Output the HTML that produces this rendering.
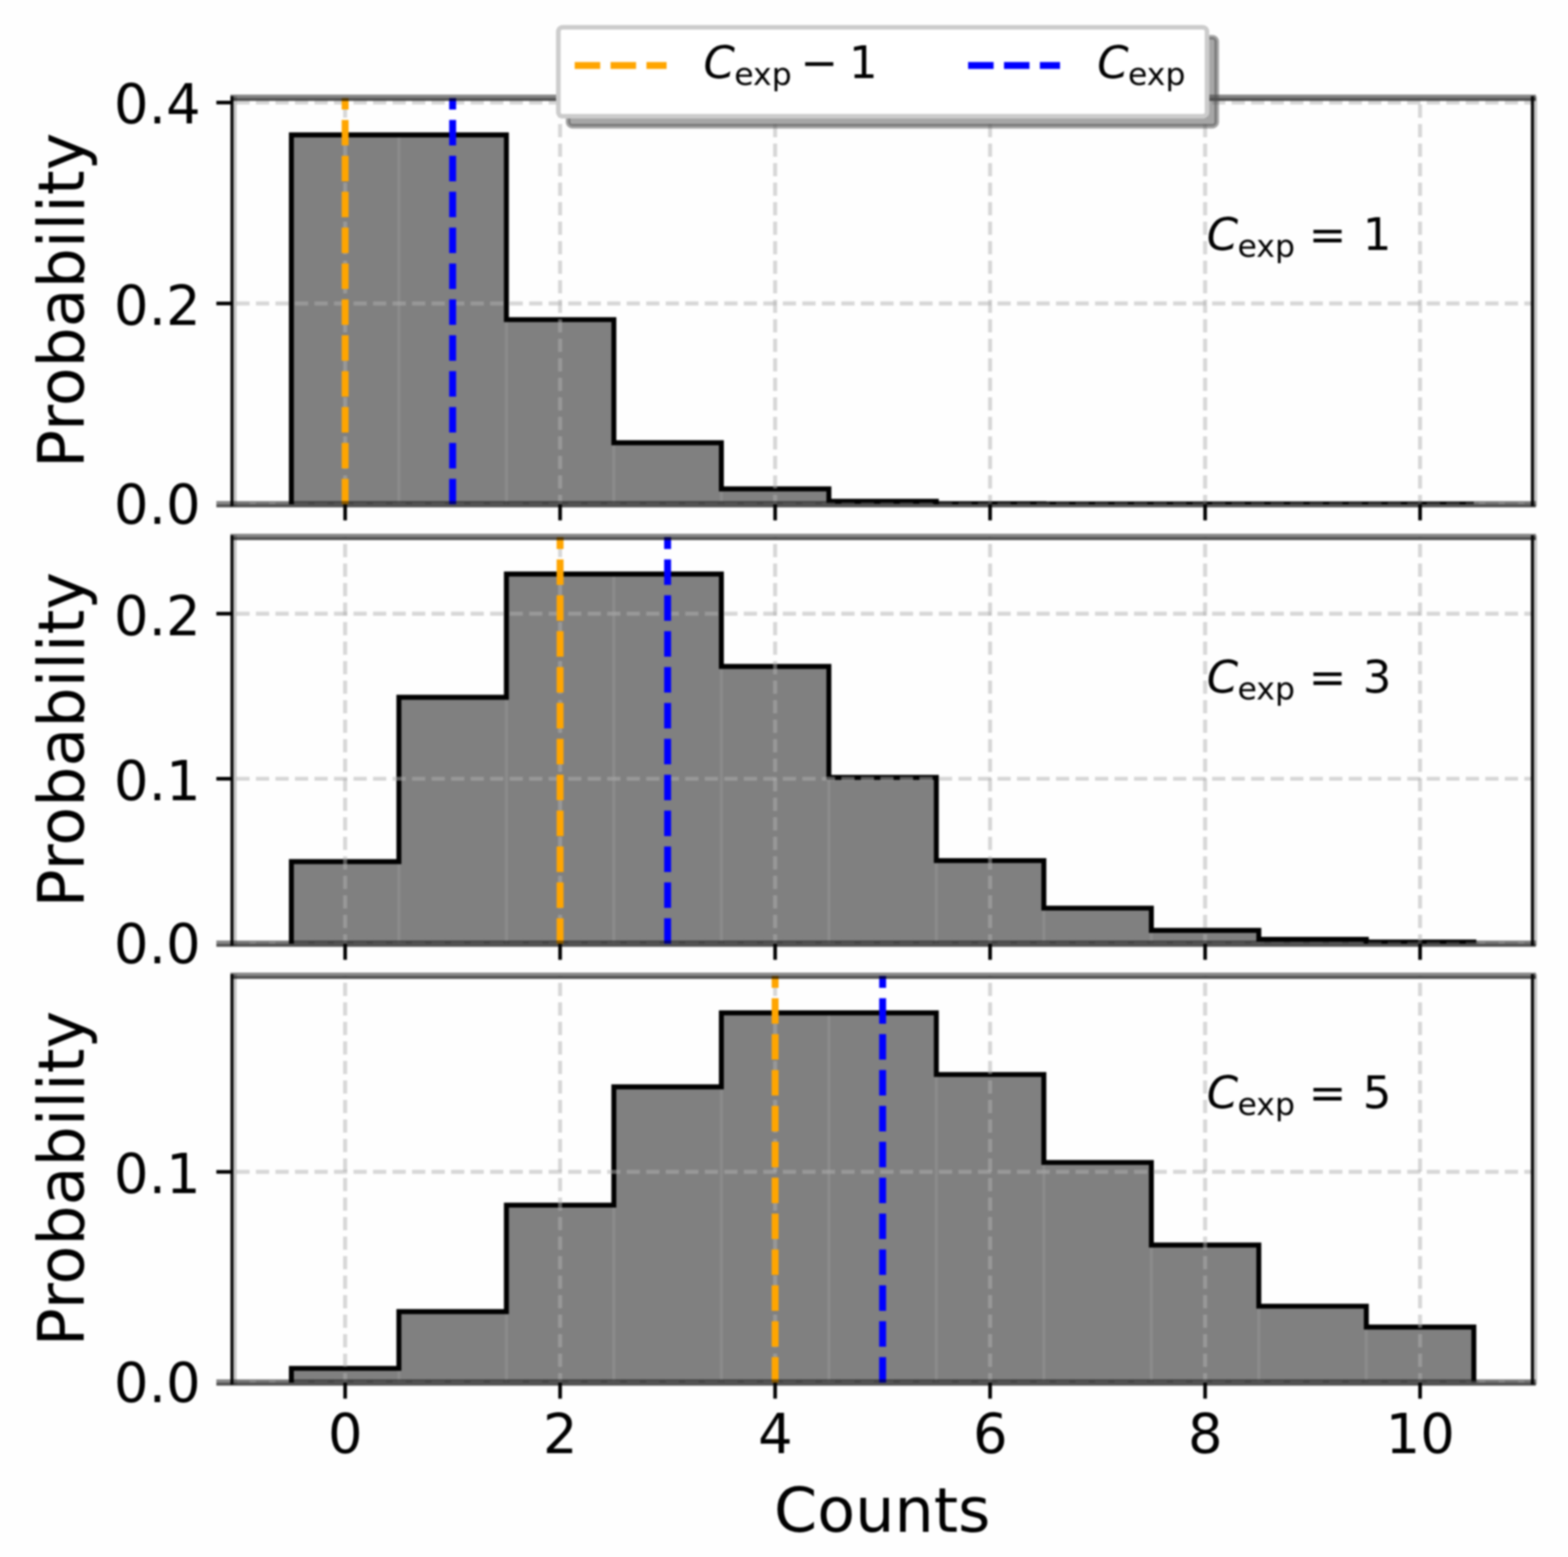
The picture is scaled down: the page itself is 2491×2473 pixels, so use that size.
<!DOCTYPE html>
<html lang="en"><head><meta charset="utf-8"><title>Poisson count distributions</title>
<style>html,body{margin:0;padding:0;background:#fff}body{width:2491px;height:2473px;overflow:hidden}svg{display:block}text{font-family:"DejaVu Sans","Liberation Sans",sans-serif;fill:#000}.tk{font-size:86.5px}.lb{font-size:100.8px}.an{font-size:71.5px}.sub{font-size:50.05px}.it{font-style:italic}</style></head><body>
<svg width="2491" height="2473" viewBox="0 0 2491 2473">
<defs><filter id="soft" filterUnits="userSpaceOnUse" x="-20" y="-20" width="2531" height="2513" color-interpolation-filters="sRGB"><feGaussianBlur stdDeviation="1.8"/></filter></defs>
<rect x="-20" y="-20" width="2531" height="2513" fill="#fefefe"/>
<g filter="url(#soft)">
<rect x="-20" y="-20" width="2531" height="2513" fill="#fefefe"/>
<g>
<clipPath id="cp0"><rect x="369.2" y="155.5" width="2066" height="645.5"/></clipPath>
<g clip-path="url(#cp0)">
<path d="M462.9 801.0 L462.9 214.2 L633.7 214.2 L633.7 214.2 L804.5 214.2 L804.5 507.6 L975.2 507.6 L975.2 703.2 L1146.0 703.2 L1146.0 776.5 L1316.8 776.5 L1316.8 796.1 L1487.5 796.1 L1487.5 800.2 L1658.3 800.2 L1658.3 800.9 L1829.1 800.9 L1829.1 801.0 L1999.8 801.0 L1999.8 801.0 L2170.6 801.0 L2170.6 801.0 L2341.4 801.0 L2341.4 801.0 Z" fill="#808080" stroke="none"/>
<line x1="633.7" x2="633.7" y1="801.0" y2="214.2" stroke="#fff" stroke-opacity="0.09" stroke-width="5"/>
<line x1="804.5" x2="804.5" y1="801.0" y2="507.6" stroke="#fff" stroke-opacity="0.09" stroke-width="5"/>
<line x1="975.2" x2="975.2" y1="801.0" y2="703.2" stroke="#fff" stroke-opacity="0.09" stroke-width="5"/>
<line x1="1146.0" x2="1146.0" y1="801.0" y2="776.5" stroke="#fff" stroke-opacity="0.09" stroke-width="5"/>
<line x1="1316.8" x2="1316.8" y1="801.0" y2="796.1" stroke="#fff" stroke-opacity="0.09" stroke-width="5"/>
<line x1="1487.5" x2="1487.5" y1="801.0" y2="800.2" stroke="#fff" stroke-opacity="0.09" stroke-width="5"/>
<line x1="1658.3" x2="1658.3" y1="801.0" y2="800.9" stroke="#fff" stroke-opacity="0.09" stroke-width="5"/>
<line x1="1829.1" x2="1829.1" y1="801.0" y2="801.0" stroke="#fff" stroke-opacity="0.09" stroke-width="5"/>
<line x1="1999.8" x2="1999.8" y1="801.0" y2="801.0" stroke="#fff" stroke-opacity="0.09" stroke-width="5"/>
<line x1="2170.6" x2="2170.6" y1="801.0" y2="801.0" stroke="#fff" stroke-opacity="0.09" stroke-width="5"/>
<path d="M462.9 801.0 L462.9 214.2 L633.7 214.2 L633.7 214.2 L804.5 214.2 L804.5 507.6 L975.2 507.6 L975.2 703.2 L1146.0 703.2 L1146.0 776.5 L1316.8 776.5 L1316.8 796.1 L1487.5 796.1 L1487.5 800.2 L1658.3 800.2 L1658.3 800.9 L1829.1 800.9 L1829.1 801.0 L1999.8 801.0 L1999.8 801.0 L2170.6 801.0 L2170.6 801.0 L2341.4 801.0 L2341.4 801.0" fill="none" stroke="#000" stroke-width="7.9" stroke-linejoin="miter" stroke-linecap="butt"/>
<line x1="548.3" x2="548.3" y1="801.0" y2="155.5" stroke-dashoffset="5.9" stroke="#b0b0b0" stroke-opacity="0.5" stroke-width="6.4" stroke-dasharray="21 10" fill="none"/>
<line x1="889.8" x2="889.8" y1="801.0" y2="155.5" stroke-dashoffset="5.9" stroke="#b0b0b0" stroke-opacity="0.5" stroke-width="6.4" stroke-dasharray="21 10" fill="none"/>
<line x1="1231.4" x2="1231.4" y1="801.0" y2="155.5" stroke-dashoffset="5.9" stroke="#b0b0b0" stroke-opacity="0.5" stroke-width="6.4" stroke-dasharray="21 10" fill="none"/>
<line x1="1572.9" x2="1572.9" y1="801.0" y2="155.5" stroke-dashoffset="5.9" stroke="#b0b0b0" stroke-opacity="0.5" stroke-width="6.4" stroke-dasharray="21 10" fill="none"/>
<line x1="1914.5" x2="1914.5" y1="801.0" y2="155.5" stroke-dashoffset="5.9" stroke="#b0b0b0" stroke-opacity="0.5" stroke-width="6.4" stroke-dasharray="21 10" fill="none"/>
<line x1="2256.0" x2="2256.0" y1="801.0" y2="155.5" stroke-dashoffset="5.9" stroke="#b0b0b0" stroke-opacity="0.5" stroke-width="6.4" stroke-dasharray="21 10" fill="none"/>
<line x1="369.2" x2="2435.2" y1="801.0" y2="801.0" stroke-dashoffset="24.6" stroke="#b0b0b0" stroke-opacity="0.5" stroke-width="6.4" stroke-dasharray="21 10" fill="none"/>
<line x1="369.2" x2="2435.2" y1="482.0" y2="482.0" stroke-dashoffset="24.6" stroke="#b0b0b0" stroke-opacity="0.5" stroke-width="6.4" stroke-dasharray="21 10" fill="none"/>
<line x1="369.2" x2="2435.2" y1="162.9" y2="162.9" stroke-dashoffset="24.6" stroke="#b0b0b0" stroke-opacity="0.5" stroke-width="6.4" stroke-dasharray="21 10" fill="none"/>
<line x1="548.3" x2="548.3" y1="801.0" y2="155.5" stroke="#ffa500" stroke-width="11" stroke-dasharray="40.5 16.5"/>
<line x1="719.1" x2="719.1" y1="801.0" y2="155.5" stroke="#0000ff" stroke-width="11" stroke-dasharray="40.5 16.5"/>
</g>
<rect x="366.0" y="150.3" width="2074.0" height="5" fill="#000" fill-opacity="0.47"/>
<rect x="366.0" y="155.3" width="2074.0" height="5" fill="#000" fill-opacity="0.68"/>
<rect x="366.0" y="795.8" width="2074.0" height="5" fill="#000" fill-opacity="0.47"/>
<rect x="366.0" y="800.8" width="2074.0" height="5" fill="#000" fill-opacity="0.68"/>
<rect x="366.0" y="152.6" width="5" height="651.3" fill="#000" fill-opacity="0.94"/>
<rect x="371.0" y="152.6" width="5" height="651.3" fill="#000" fill-opacity="0.22"/>
<rect x="2432.0" y="152.6" width="5" height="651.3" fill="#000" fill-opacity="0.94"/>
<rect x="2437.0" y="152.6" width="5" height="651.3" fill="#000" fill-opacity="0.22"/>
<line x1="548.3" x2="548.3" y1="801.0" y2="826.5" stroke="#000" stroke-width="5.8"/>
<line x1="889.8" x2="889.8" y1="801.0" y2="826.5" stroke="#000" stroke-width="5.8"/>
<line x1="1231.4" x2="1231.4" y1="801.0" y2="826.5" stroke="#000" stroke-width="5.8"/>
<line x1="1572.9" x2="1572.9" y1="801.0" y2="826.5" stroke="#000" stroke-width="5.8"/>
<line x1="1914.5" x2="1914.5" y1="801.0" y2="826.5" stroke="#000" stroke-width="5.8"/>
<line x1="2256.0" x2="2256.0" y1="801.0" y2="826.5" stroke="#000" stroke-width="5.8"/>
<rect x="343.7" y="795.8" width="22.5" height="5" fill="#000" fill-opacity="0.47"/>
<rect x="343.7" y="800.8" width="22.5" height="5" fill="#000" fill-opacity="0.68"/>
<text class="tk" x="318.7" y="832.2" text-anchor="end">0.0</text>
<line x1="343.7" x2="369.2" y1="482.0" y2="482.0" stroke="#000" stroke-width="5.8"/>
<text class="tk" x="318.7" y="515.9" text-anchor="end">0.2</text>
<line x1="343.7" x2="369.2" y1="162.9" y2="162.9" stroke="#000" stroke-width="5.8"/>
<text class="tk" x="318.7" y="195.9" text-anchor="end">0.4</text>
<text class="lb" transform="translate(133 477.2) rotate(-90)" text-anchor="middle">Probability</text>
<text class="an" x="1917" y="396.8"><tspan class="it">C</tspan><tspan class="sub" dy="11" dx="-1">exp</tspan><tspan dy="-11" dx="-1"> = </tspan><tspan dx="3.5">1</tspan></text>
</g>
<g>
<clipPath id="cp1"><rect x="369.2" y="853" width="2066" height="646"/></clipPath>
<g clip-path="url(#cp1)">
<path d="M462.9 1499.0 L462.9 1368.5 L633.7 1368.5 L633.7 1107.5 L804.5 1107.5 L804.5 911.7 L975.2 911.7 L975.2 911.7 L1146.0 911.7 L1146.0 1058.5 L1316.8 1058.5 L1316.8 1234.7 L1487.5 1234.7 L1487.5 1366.9 L1658.3 1366.9 L1658.3 1442.4 L1829.1 1442.4 L1829.1 1477.8 L1999.8 1477.8 L1999.8 1491.9 L2170.6 1491.9 L2170.6 1496.3 L2341.4 1496.3 L2341.4 1499.0 Z" fill="#808080" stroke="none"/>
<line x1="633.7" x2="633.7" y1="1499.0" y2="1368.5" stroke="#fff" stroke-opacity="0.09" stroke-width="5"/>
<line x1="804.5" x2="804.5" y1="1499.0" y2="1107.5" stroke="#fff" stroke-opacity="0.09" stroke-width="5"/>
<line x1="975.2" x2="975.2" y1="1499.0" y2="911.7" stroke="#fff" stroke-opacity="0.09" stroke-width="5"/>
<line x1="1146.0" x2="1146.0" y1="1499.0" y2="1058.5" stroke="#fff" stroke-opacity="0.09" stroke-width="5"/>
<line x1="1316.8" x2="1316.8" y1="1499.0" y2="1234.7" stroke="#fff" stroke-opacity="0.09" stroke-width="5"/>
<line x1="1487.5" x2="1487.5" y1="1499.0" y2="1366.9" stroke="#fff" stroke-opacity="0.09" stroke-width="5"/>
<line x1="1658.3" x2="1658.3" y1="1499.0" y2="1442.4" stroke="#fff" stroke-opacity="0.09" stroke-width="5"/>
<line x1="1829.1" x2="1829.1" y1="1499.0" y2="1477.8" stroke="#fff" stroke-opacity="0.09" stroke-width="5"/>
<line x1="1999.8" x2="1999.8" y1="1499.0" y2="1491.9" stroke="#fff" stroke-opacity="0.09" stroke-width="5"/>
<line x1="2170.6" x2="2170.6" y1="1499.0" y2="1496.3" stroke="#fff" stroke-opacity="0.09" stroke-width="5"/>
<path d="M462.9 1499.0 L462.9 1368.5 L633.7 1368.5 L633.7 1107.5 L804.5 1107.5 L804.5 911.7 L975.2 911.7 L975.2 911.7 L1146.0 911.7 L1146.0 1058.5 L1316.8 1058.5 L1316.8 1234.7 L1487.5 1234.7 L1487.5 1366.9 L1658.3 1366.9 L1658.3 1442.4 L1829.1 1442.4 L1829.1 1477.8 L1999.8 1477.8 L1999.8 1491.9 L2170.6 1491.9 L2170.6 1496.3 L2341.4 1496.3 L2341.4 1499.0" fill="none" stroke="#000" stroke-width="7.9" stroke-linejoin="miter" stroke-linecap="butt"/>
<line x1="548.3" x2="548.3" y1="1499.0" y2="853.0" stroke-dashoffset="5.9" stroke="#b0b0b0" stroke-opacity="0.5" stroke-width="6.4" stroke-dasharray="21 10" fill="none"/>
<line x1="889.8" x2="889.8" y1="1499.0" y2="853.0" stroke-dashoffset="5.9" stroke="#b0b0b0" stroke-opacity="0.5" stroke-width="6.4" stroke-dasharray="21 10" fill="none"/>
<line x1="1231.4" x2="1231.4" y1="1499.0" y2="853.0" stroke-dashoffset="5.9" stroke="#b0b0b0" stroke-opacity="0.5" stroke-width="6.4" stroke-dasharray="21 10" fill="none"/>
<line x1="1572.9" x2="1572.9" y1="1499.0" y2="853.0" stroke-dashoffset="5.9" stroke="#b0b0b0" stroke-opacity="0.5" stroke-width="6.4" stroke-dasharray="21 10" fill="none"/>
<line x1="1914.5" x2="1914.5" y1="1499.0" y2="853.0" stroke-dashoffset="5.9" stroke="#b0b0b0" stroke-opacity="0.5" stroke-width="6.4" stroke-dasharray="21 10" fill="none"/>
<line x1="2256.0" x2="2256.0" y1="1499.0" y2="853.0" stroke-dashoffset="5.9" stroke="#b0b0b0" stroke-opacity="0.5" stroke-width="6.4" stroke-dasharray="21 10" fill="none"/>
<line x1="369.2" x2="2435.2" y1="1499.0" y2="1499.0" stroke-dashoffset="24.6" stroke="#b0b0b0" stroke-opacity="0.5" stroke-width="6.4" stroke-dasharray="21 10" fill="none"/>
<line x1="369.2" x2="2435.2" y1="1236.9" y2="1236.9" stroke-dashoffset="24.6" stroke="#b0b0b0" stroke-opacity="0.5" stroke-width="6.4" stroke-dasharray="21 10" fill="none"/>
<line x1="369.2" x2="2435.2" y1="974.7" y2="974.7" stroke-dashoffset="24.6" stroke="#b0b0b0" stroke-opacity="0.5" stroke-width="6.4" stroke-dasharray="21 10" fill="none"/>
<line x1="889.8" x2="889.8" y1="1499.0" y2="853.0" stroke="#ffa500" stroke-width="11" stroke-dasharray="40.5 16.5"/>
<line x1="1060.6" x2="1060.6" y1="1499.0" y2="853.0" stroke="#0000ff" stroke-width="11" stroke-dasharray="40.5 16.5"/>
</g>
<rect x="366.0" y="847.8" width="2074.0" height="5" fill="#000" fill-opacity="0.47"/>
<rect x="366.0" y="852.8" width="2074.0" height="5" fill="#000" fill-opacity="0.68"/>
<rect x="366.0" y="1493.8" width="2074.0" height="5" fill="#000" fill-opacity="0.47"/>
<rect x="366.0" y="1498.8" width="2074.0" height="5" fill="#000" fill-opacity="0.68"/>
<rect x="366.0" y="850.1" width="5" height="651.8" fill="#000" fill-opacity="0.94"/>
<rect x="371.0" y="850.1" width="5" height="651.8" fill="#000" fill-opacity="0.22"/>
<rect x="2432.0" y="850.1" width="5" height="651.8" fill="#000" fill-opacity="0.94"/>
<rect x="2437.0" y="850.1" width="5" height="651.8" fill="#000" fill-opacity="0.22"/>
<line x1="548.3" x2="548.3" y1="1499.0" y2="1524.5" stroke="#000" stroke-width="5.8"/>
<line x1="889.8" x2="889.8" y1="1499.0" y2="1524.5" stroke="#000" stroke-width="5.8"/>
<line x1="1231.4" x2="1231.4" y1="1499.0" y2="1524.5" stroke="#000" stroke-width="5.8"/>
<line x1="1572.9" x2="1572.9" y1="1499.0" y2="1524.5" stroke="#000" stroke-width="5.8"/>
<line x1="1914.5" x2="1914.5" y1="1499.0" y2="1524.5" stroke="#000" stroke-width="5.8"/>
<line x1="2256.0" x2="2256.0" y1="1499.0" y2="1524.5" stroke="#000" stroke-width="5.8"/>
<rect x="343.7" y="1493.8" width="22.5" height="5" fill="#000" fill-opacity="0.47"/>
<rect x="343.7" y="1498.8" width="22.5" height="5" fill="#000" fill-opacity="0.68"/>
<text class="tk" x="318.7" y="1530.2" text-anchor="end">0.0</text>
<line x1="343.7" x2="369.2" y1="1236.9" y2="1236.9" stroke="#000" stroke-width="5.8"/>
<text class="tk" x="318.7" y="1270.8" text-anchor="end">0.1</text>
<line x1="343.7" x2="369.2" y1="974.7" y2="974.7" stroke="#000" stroke-width="5.8"/>
<text class="tk" x="318.7" y="1008.6" text-anchor="end">0.2</text>
<text class="lb" transform="translate(133 1175.0) rotate(-90)" text-anchor="middle">Probability</text>
<text class="an" x="1917" y="1099.5"><tspan class="it">C</tspan><tspan class="sub" dy="11" dx="-1">exp</tspan><tspan dy="-11" dx="-1"> = </tspan><tspan dx="3.5">3</tspan></text>
</g>
<g>
<clipPath id="cp2"><rect x="369.2" y="1550" width="2066" height="646"/></clipPath>
<g clip-path="url(#cp2)">
<path d="M462.9 2196.0 L462.9 2173.4 L633.7 2173.4 L633.7 2083.2 L804.5 2083.2 L804.5 1914.1 L975.2 1914.1 L975.2 1726.2 L1146.0 1726.2 L1146.0 1608.7 L1316.8 1608.7 L1316.8 1608.7 L1487.5 1608.7 L1487.5 1706.6 L1658.3 1706.6 L1658.3 1846.4 L1829.1 1846.4 L1829.1 1977.5 L1999.8 1977.5 L1999.8 2074.6 L2170.6 2074.6 L2170.6 2107.7 L2341.4 2107.7 L2341.4 2196.0 Z" fill="#808080" stroke="none"/>
<line x1="633.7" x2="633.7" y1="2196.0" y2="2173.4" stroke="#fff" stroke-opacity="0.09" stroke-width="5"/>
<line x1="804.5" x2="804.5" y1="2196.0" y2="2083.2" stroke="#fff" stroke-opacity="0.09" stroke-width="5"/>
<line x1="975.2" x2="975.2" y1="2196.0" y2="1914.1" stroke="#fff" stroke-opacity="0.09" stroke-width="5"/>
<line x1="1146.0" x2="1146.0" y1="2196.0" y2="1726.2" stroke="#fff" stroke-opacity="0.09" stroke-width="5"/>
<line x1="1316.8" x2="1316.8" y1="2196.0" y2="1608.7" stroke="#fff" stroke-opacity="0.09" stroke-width="5"/>
<line x1="1487.5" x2="1487.5" y1="2196.0" y2="1706.6" stroke="#fff" stroke-opacity="0.09" stroke-width="5"/>
<line x1="1658.3" x2="1658.3" y1="2196.0" y2="1846.4" stroke="#fff" stroke-opacity="0.09" stroke-width="5"/>
<line x1="1829.1" x2="1829.1" y1="2196.0" y2="1977.5" stroke="#fff" stroke-opacity="0.09" stroke-width="5"/>
<line x1="1999.8" x2="1999.8" y1="2196.0" y2="2074.6" stroke="#fff" stroke-opacity="0.09" stroke-width="5"/>
<line x1="2170.6" x2="2170.6" y1="2196.0" y2="2107.7" stroke="#fff" stroke-opacity="0.09" stroke-width="5"/>
<path d="M462.9 2196.0 L462.9 2173.4 L633.7 2173.4 L633.7 2083.2 L804.5 2083.2 L804.5 1914.1 L975.2 1914.1 L975.2 1726.2 L1146.0 1726.2 L1146.0 1608.7 L1316.8 1608.7 L1316.8 1608.7 L1487.5 1608.7 L1487.5 1706.6 L1658.3 1706.6 L1658.3 1846.4 L1829.1 1846.4 L1829.1 1977.5 L1999.8 1977.5 L1999.8 2074.6 L2170.6 2074.6 L2170.6 2107.7 L2341.4 2107.7 L2341.4 2196.0" fill="none" stroke="#000" stroke-width="7.9" stroke-linejoin="miter" stroke-linecap="butt"/>
<line x1="548.3" x2="548.3" y1="2196.0" y2="1550.0" stroke-dashoffset="5.9" stroke="#b0b0b0" stroke-opacity="0.5" stroke-width="6.4" stroke-dasharray="21 10" fill="none"/>
<line x1="889.8" x2="889.8" y1="2196.0" y2="1550.0" stroke-dashoffset="5.9" stroke="#b0b0b0" stroke-opacity="0.5" stroke-width="6.4" stroke-dasharray="21 10" fill="none"/>
<line x1="1231.4" x2="1231.4" y1="2196.0" y2="1550.0" stroke-dashoffset="5.9" stroke="#b0b0b0" stroke-opacity="0.5" stroke-width="6.4" stroke-dasharray="21 10" fill="none"/>
<line x1="1572.9" x2="1572.9" y1="2196.0" y2="1550.0" stroke-dashoffset="5.9" stroke="#b0b0b0" stroke-opacity="0.5" stroke-width="6.4" stroke-dasharray="21 10" fill="none"/>
<line x1="1914.5" x2="1914.5" y1="2196.0" y2="1550.0" stroke-dashoffset="5.9" stroke="#b0b0b0" stroke-opacity="0.5" stroke-width="6.4" stroke-dasharray="21 10" fill="none"/>
<line x1="2256.0" x2="2256.0" y1="2196.0" y2="1550.0" stroke-dashoffset="5.9" stroke="#b0b0b0" stroke-opacity="0.5" stroke-width="6.4" stroke-dasharray="21 10" fill="none"/>
<line x1="369.2" x2="2435.2" y1="2196.0" y2="2196.0" stroke-dashoffset="24.6" stroke="#b0b0b0" stroke-opacity="0.5" stroke-width="6.4" stroke-dasharray="21 10" fill="none"/>
<line x1="369.2" x2="2435.2" y1="1861.3" y2="1861.3" stroke-dashoffset="24.6" stroke="#b0b0b0" stroke-opacity="0.5" stroke-width="6.4" stroke-dasharray="21 10" fill="none"/>
<line x1="1231.4" x2="1231.4" y1="2196.0" y2="1550.0" stroke="#ffa500" stroke-width="11" stroke-dasharray="40.5 16.5"/>
<line x1="1402.2" x2="1402.2" y1="2196.0" y2="1550.0" stroke="#0000ff" stroke-width="11" stroke-dasharray="40.5 16.5"/>
</g>
<rect x="366.0" y="1544.8" width="2074.0" height="5" fill="#000" fill-opacity="0.47"/>
<rect x="366.0" y="1549.8" width="2074.0" height="5" fill="#000" fill-opacity="0.68"/>
<rect x="366.0" y="2190.8" width="2074.0" height="5" fill="#000" fill-opacity="0.47"/>
<rect x="366.0" y="2195.8" width="2074.0" height="5" fill="#000" fill-opacity="0.68"/>
<rect x="366.0" y="1547.1" width="5" height="651.8" fill="#000" fill-opacity="0.94"/>
<rect x="371.0" y="1547.1" width="5" height="651.8" fill="#000" fill-opacity="0.22"/>
<rect x="2432.0" y="1547.1" width="5" height="651.8" fill="#000" fill-opacity="0.94"/>
<rect x="2437.0" y="1547.1" width="5" height="651.8" fill="#000" fill-opacity="0.22"/>
<line x1="548.3" x2="548.3" y1="2196.0" y2="2221.5" stroke="#000" stroke-width="5.8"/>
<line x1="889.8" x2="889.8" y1="2196.0" y2="2221.5" stroke="#000" stroke-width="5.8"/>
<line x1="1231.4" x2="1231.4" y1="2196.0" y2="2221.5" stroke="#000" stroke-width="5.8"/>
<line x1="1572.9" x2="1572.9" y1="2196.0" y2="2221.5" stroke="#000" stroke-width="5.8"/>
<line x1="1914.5" x2="1914.5" y1="2196.0" y2="2221.5" stroke="#000" stroke-width="5.8"/>
<line x1="2256.0" x2="2256.0" y1="2196.0" y2="2221.5" stroke="#000" stroke-width="5.8"/>
<rect x="343.7" y="2190.8" width="22.5" height="5" fill="#000" fill-opacity="0.47"/>
<rect x="343.7" y="2195.8" width="22.5" height="5" fill="#000" fill-opacity="0.68"/>
<text class="tk" x="318.7" y="2227.2" text-anchor="end">0.0</text>
<line x1="343.7" x2="369.2" y1="1861.3" y2="1861.3" stroke="#000" stroke-width="5.8"/>
<text class="tk" x="318.7" y="1895.2" text-anchor="end">0.1</text>
<text class="lb" transform="translate(133 1872.0) rotate(-90)" text-anchor="middle">Probability</text>
<text class="an" x="1917" y="1760.0"><tspan class="it">C</tspan><tspan class="sub" dy="11" dx="-1">exp</tspan><tspan dy="-11" dx="-1"> = </tspan><tspan dx="3.5">5</tspan></text>
</g>
<text class="tk" x="548.6" y="2308" text-anchor="middle">0</text>
<text class="tk" x="890.1" y="2308" text-anchor="middle">2</text>
<text class="tk" x="1231.7" y="2308" text-anchor="middle">4</text>
<text class="tk" x="1573.2" y="2308" text-anchor="middle">6</text>
<text class="tk" x="1914.8" y="2308" text-anchor="middle">8</text>
<text class="tk" x="2256.3" y="2308" text-anchor="middle">10</text>
<text class="lb" style="font-size:98.5px" x="1401.5" y="2433" text-anchor="middle">Counts</text>
<g>
<rect x="902.5" y="59.1" width="1030.5" height="141.4" rx="7" fill="#4d4d4d" fill-opacity="0.5" stroke="#4d4d4d" stroke-opacity="0.5" stroke-width="7.3"/>
<rect x="887" y="43.3" width="1030.5" height="141.4" rx="7" fill="#fff" stroke="#ccc" stroke-width="7.3"/>
<line x1="913" x2="1059" y1="104" y2="104" stroke="#ffa500" stroke-width="11" stroke-dasharray="40.5 16.5"/>
<line x1="1538" x2="1684" y1="104" y2="104" stroke="#0000ff" stroke-width="11" stroke-dasharray="40.5 16.5"/>
<text class="an" x="1117.5" y="124"><tspan class="it">C</tspan><tspan class="sub" dy="11" dx="-1">exp</tspan><tspan dy="-11" dx="14">−</tspan><tspan dx="17">1</tspan></text>
<text class="an" x="1743" y="124"><tspan class="it">C</tspan><tspan class="sub" dy="11" dx="-1">exp</tspan></text>
</g>
</g>
</svg></body></html>
